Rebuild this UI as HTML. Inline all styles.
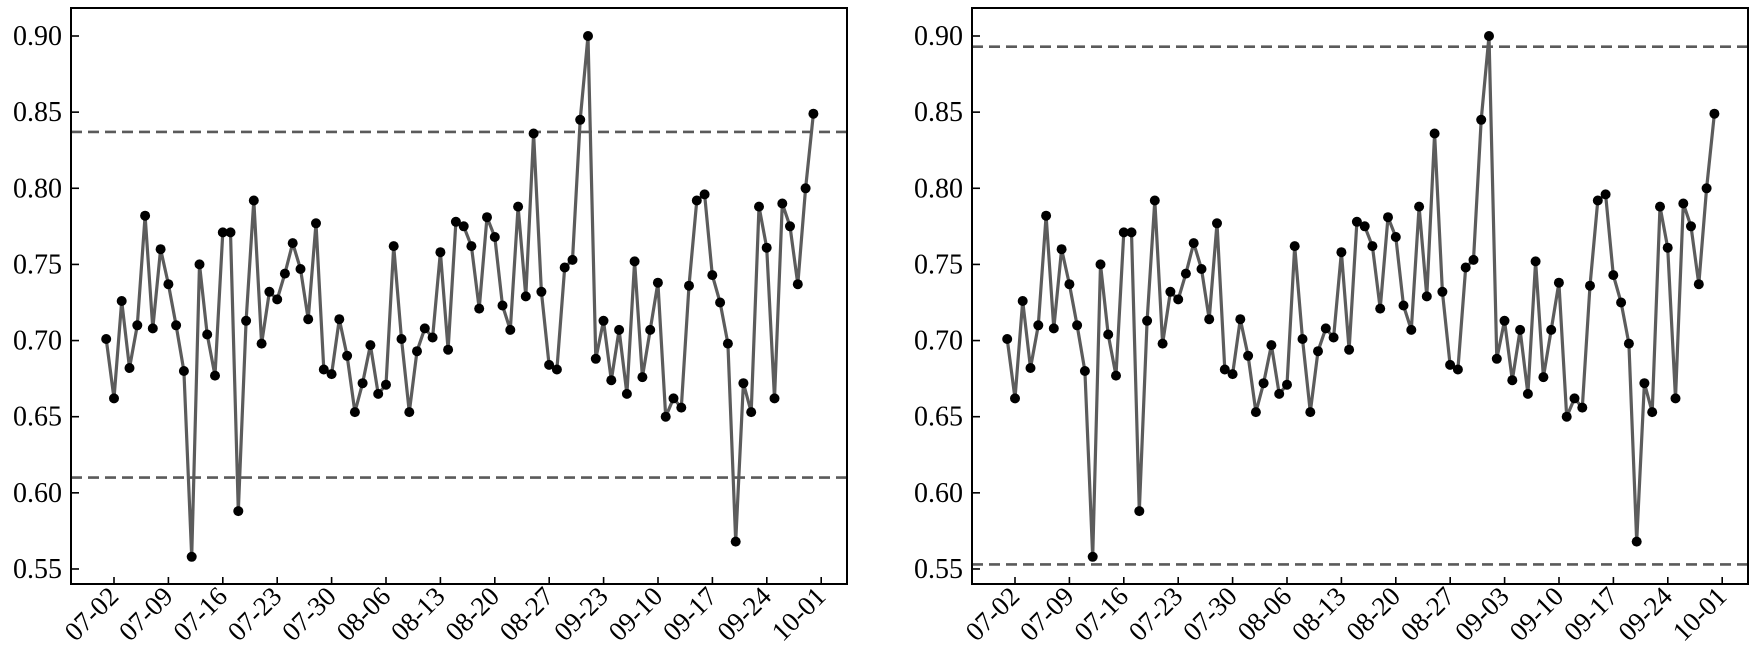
<!DOCTYPE html>
<html><head><meta charset="utf-8"><style>
html,body{margin:0;padding:0;background:#fff;}
svg{display:block;}
text{font-family:"Liberation Serif",serif;fill:#000;}
</style></head><body>
<svg id="s" width="1758" height="661" xmlns="http://www.w3.org/2000/svg"></svg>
<script>
const vals=[0.701,0.662,0.726,0.682,0.710,0.782,0.708,0.760,0.737,0.710,
0.680,0.558,0.750,0.704,0.677,0.771,0.771,0.588,0.713,0.792,
0.698,0.732,0.727,0.744,0.764,0.747,0.714,0.777,0.681,0.678,
0.714,0.690,0.653,0.672,0.697,0.665,0.671,0.762,0.701,0.653,
0.693,0.708,0.702,0.758,0.694,0.778,0.775,0.762,0.721,0.781,
0.768,0.723,0.707,0.788,0.729,0.836,0.732,0.684,0.681,0.748,
0.753,0.845,0.900,0.688,0.713,0.674,0.707,0.665,0.752,0.676,
0.707,0.738,0.650,0.662,0.656,0.736,0.792,0.796,0.743,0.725,
0.698,0.568,0.672,0.653,0.788,0.761,0.662,0.790,0.775,0.737,
0.800,0.849];
const s=document.getElementById('s');
let h='';
function Y(v){return 36+(0.9-v)/0.05*76.14;}
function plot(off,dash,labels){
  const L=71+off,R=847+off,T=8,B=584;
  const X=i=>106.2+off+i*7.771;
  dash.forEach(d=>{h+=`<line x1="${L}" x2="${R}" y1="${Y(d)}" y2="${Y(d)}" stroke="#5a5a5a" stroke-width="2.6" stroke-dasharray="11,6"/>`;});
  let p=vals.map((v,i)=>`${X(i).toFixed(1)},${Y(v).toFixed(1)}`).join(' ');
  h+=`<polyline points="${p}" fill="none" stroke="#5c5c5c" stroke-width="3.2" stroke-linejoin="round"/>`;
  vals.forEach((v,i)=>{h+=`<circle cx="${X(i).toFixed(1)}" cy="${Y(v).toFixed(1)}" r="5" fill="#000"/>`;});
  h+=`<rect x="${L}" y="${T}" width="${R-L}" height="${B-T}" fill="none" stroke="#000" stroke-width="2"/>`;
  for(let k=0;k<8;k++){const v=0.9-k*0.05,y=Y(v);
    h+=`<line x1="${L}" x2="${L+8}" y1="${y}" y2="${y}" stroke="#000" stroke-width="1.6"/>`;
    h+=`<text x="${L-9}" y="${y+9}" font-size="28" text-anchor="end">${v.toFixed(2)}</text>`;}
  labels.forEach((t,k)=>{const x=114+off+k*54.4;
    h+=`<line x1="${x}" x2="${x}" y1="${B}" y2="${B-7}" stroke="#000" stroke-width="1.6"/>`;
    h+=`<text transform="translate(${x+6},${B+14}) rotate(-45)" font-size="27" text-anchor="end">${t}</text>`;});
}
plot(0,[0.837,0.610],["07-02","07-09","07-16","07-23","07-30","08-06","08-13","08-20","08-27","09-23","09-10","09-17","09-24","10-01"]);
plot(901,[0.893,0.553],["07-02","07-09","07-16","07-23","07-30","08-06","08-13","08-20","08-27","09-03","09-10","09-17","09-24","10-01"]);
s.innerHTML=h;
</script>
</body></html>
